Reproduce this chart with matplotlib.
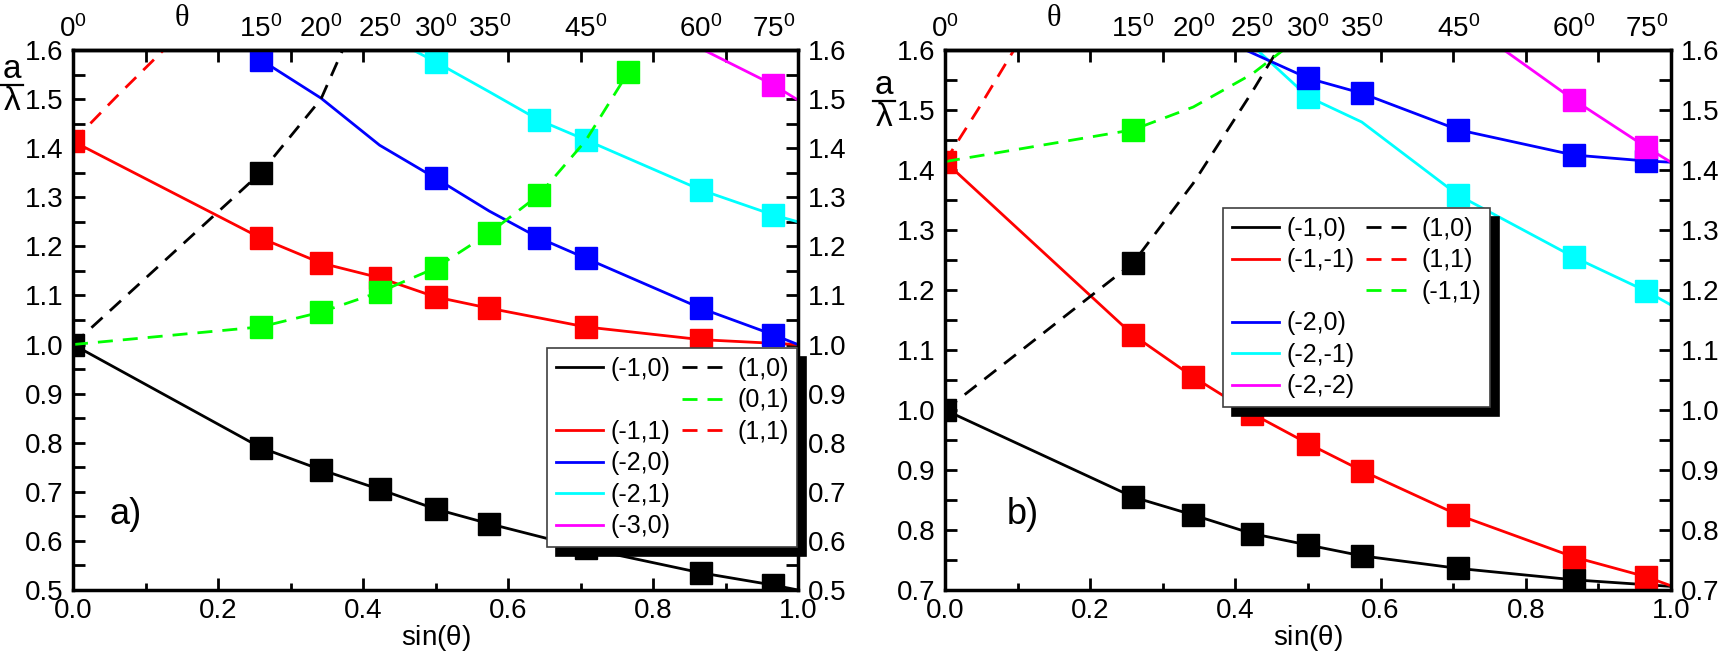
import matplotlib
matplotlib.use('Agg')
import matplotlib.pyplot as plt
from matplotlib.lines import Line2D
from matplotlib.ticker import MultipleLocator

plt.rcParams['font.family'] = ['Liberation Sans', 'DejaVu Sans']
plt.rcParams['mathtext.fontset'] = 'custom'
plt.rcParams['mathtext.rm'] = 'Liberation Sans'
plt.rcParams['mathtext.it'] = 'Liberation Sans'

# top axis: angle labels placed at sin(theta)
theta_labels = ['0', '15', '20', '25', '30', '35', '45', '60', '75']
theta_sin = [0.0, 0.259, 0.342, 0.423, 0.5, 0.574, 0.707, 0.866, 0.966]

# ---- panel a) ----
a_m10_x = [0, 0.259, 0.342, 0.423, 0.5, 0.574, 0.707, 0.866, 0.966, 1.0]
a_m10_y = [1.0, 0.79, 0.745, 0.705, 0.665, 0.635, 0.585, 0.535, 0.51, 0.5]
a_p10_x = [0, 0.259, 0.342, 0.372]
a_p10_y = [1.0, 1.35, 1.50, 1.6]
a_01_x = [0, 0.259, 0.342, 0.423, 0.5, 0.574, 0.643, 0.707, 0.766]
a_01_y = [1.0, 1.036, 1.066, 1.107, 1.156, 1.227, 1.305, 1.415, 1.555]
a_m11_x = [0, 0.259, 0.342, 0.423, 0.5, 0.574, 0.707, 0.866, 1.0]
a_m11_y = [1.414, 1.217, 1.166, 1.136, 1.097, 1.074, 1.036, 1.01, 1.0]
a_p11_x = [0, 0.06, 0.125]
a_p11_y = [1.414, 1.505, 1.6]
a_m20_x = [0.259, 0.342, 0.423, 0.5, 0.574, 0.643, 0.707, 0.866, 0.966, 1.0]
a_m20_y = [1.58, 1.502, 1.406, 1.339, 1.272, 1.217, 1.176, 1.074, 1.02, 1.0]
a_m21_x = [0.469, 0.5, 0.574, 0.643, 0.707, 0.866, 0.966, 1.0]
a_m21_y = [1.6, 1.576, 1.515, 1.457, 1.417, 1.315, 1.264, 1.25]
a_m30_x = [0.87, 0.966, 1.0]
a_m30_y = [1.6, 1.529, 1.498]

# ---- panel b) ----
b_m10_x = [0, 0.259, 0.342, 0.423, 0.5, 0.574, 0.707, 0.866, 1.0]
b_m10_y = [1.0, 0.855, 0.825, 0.794, 0.775, 0.757, 0.736, 0.717, 0.706]
b_p10_x = [0, 0.259, 0.342, 0.423, 0.458]
b_p10_y = [1.0, 1.245, 1.378, 1.53, 1.6]
b_m1m1_x = [0, 0.259, 0.342, 0.423, 0.5, 0.574, 0.707, 0.866, 0.966, 1.0]
b_m1m1_y = [1.414, 1.125, 1.055, 0.994, 0.944, 0.899, 0.825, 0.755, 0.722, 0.707]
b_p11_x = [0, 0.045, 0.095]
b_p11_y = [1.414, 1.5, 1.6]
b_m11_x = [0, 0.259, 0.342, 0.423, 0.466]
b_m11_y = [1.414, 1.467, 1.505, 1.56, 1.6]
b_m20_x = [0.414, 0.5, 0.574, 0.707, 0.866, 0.966, 1.0]
b_m20_y = [1.6, 1.553, 1.528, 1.467, 1.425, 1.415, 1.413]
b_m2m1_x = [0.43, 0.5, 0.574, 0.707, 0.866, 0.966, 1.0]
b_m2m1_y = [1.6, 1.522, 1.48, 1.358, 1.255, 1.198, 1.175]
b_m2m2_x = [0.77, 0.866, 0.966, 1.0]
b_m2m2_y = [1.6, 1.517, 1.438, 1.413]

LW = 2.0
MS = 16
DASH = (0, (5.4, 3.6))


def curve(ax, x, y, color, ls='-', marks=None):
    ax.plot(x, y, color=color, ls=ls, lw=LW, marker='s' if marks else None,
            ms=MS, markevery=marks, mfc=color, mec=color)


def blank():
    return Line2D([], [], color='none')


def style_axes(ax, ymin, ymax):
    ax.set_xlim(0, 1.0)
    ax.set_ylim(ymin, ymax)
    for s in ax.spines.values():
        s.set_linewidth(2.5)
    ax.xaxis.set_major_locator(MultipleLocator(0.2))
    ax.xaxis.set_minor_locator(MultipleLocator(0.1))
    ax.yaxis.set_major_locator(MultipleLocator(0.1))
    ax.yaxis.set_minor_locator(MultipleLocator(0.05))
    ax.tick_params(which='both', direction='in', top=False, right=True,
                   labelright=True, width=2.0, labelsize=20)
    ax.tick_params(axis='y', which='both', length=8.5, pad=7)
    ax.tick_params(axis='x', which='major', length=8.5, pad=6)
    ax.tick_params(axis='x', which='minor', length=5)
    ax.xaxis.set_major_formatter(plt.FormatStrFormatter('%.1f'))
    ax.yaxis.set_major_formatter(plt.FormatStrFormatter('%.1f'))
    ax.set_xlabel(r'sin($\mathregular{\theta}$)', fontsize=20, labelpad=-1)

    top = ax.secondary_xaxis('top')
    top.set_xticks(theta_sin, [r'$\mathregular{%s^0}$' % t for t in theta_labels])
    top.xaxis.set_minor_locator(MultipleLocator(0.1))
    top.tick_params(which='major', length=0, pad=5, labelsize=20)
    top.tick_params(which='minor', direction='in', length=8.5, width=2.0)
    top.spines['top'].set_linewidth(2.5)
    ax.text(0.15, 1.058, '\u03b8', transform=ax.transAxes, ha='center', va='center',
            fontsize=22, family='Liberation Serif')


def shadow_legend(ax, handles, labels, anchor):
    leg = ax.legend(handles, labels, ncol=2, loc='upper left', bbox_to_anchor=anchor,
                    borderaxespad=0, fontsize=18, handlelength=1.9, handletextpad=0.3,
                    columnspacing=0.45, labelspacing=0.3, borderpad=0.35, fancybox=False,
                    framealpha=1, edgecolor='#404040',
                    shadow={'ox': 6.5, 'oy': -6.5, 'facecolor': 'k', 'edgecolor': 'k', 'alpha': 1})
    leg.get_frame().set_linewidth(1.2)
    return leg


fig = plt.figure(figsize=(17.2, 6.58), dpi=100)
axA = fig.add_axes([73 / 1720, 68 / 658, 725 / 1720, 540 / 658])
axB = fig.add_axes([945 / 1720, 68 / 658, 726 / 1720, 540 / 658])

# panel a
curve(axA, a_m10_x, a_m10_y, 'black', '-', list(range(9)))
curve(axA, a_m11_x, a_m11_y, 'red', '-', list(range(8)))
curve(axA, a_m20_x, a_m20_y, 'blue', '-', [0, 3, 5, 6, 7, 8])
curve(axA, a_m21_x, a_m21_y, 'cyan', '-', [1, 3, 4, 5, 6])
curve(axA, a_m30_x, a_m30_y, 'magenta', '-', [1])
curve(axA, a_p10_x, a_p10_y, 'black', DASH, [1])
curve(axA, a_01_x, a_01_y, '#00ff00', DASH, [1, 2, 3, 4, 5, 6, 8])
curve(axA, a_p11_x, a_p11_y, 'red', DASH)
style_axes(axA, 0.5, 1.6)
axA.text(0.05, 0.14, 'a)', transform=axA.transAxes, fontsize=26, va='center')

hA = [Line2D([], [], color='black', lw=LW), blank(),
      Line2D([], [], color='red', lw=LW), Line2D([], [], color='blue', lw=LW),
      Line2D([], [], color='cyan', lw=LW), Line2D([], [], color='magenta', lw=LW),
      Line2D([], [], color='black', lw=LW, ls=DASH), Line2D([], [], color='#00ff00', lw=LW, ls=DASH),
      Line2D([], [], color='red', lw=LW, ls=DASH), blank(), blank(), blank()]
lA = ['(-1,0)', '', '(-1,1)', '(-2,0)', '(-2,1)', '(-3,0)',
      '(1,0)', '(0,1)', '(1,1)', '', '', '']
shadow_legend(axA, hA, lA, (0.654, 0.448))

# panel b
curve(axB, b_m10_x, b_m10_y, 'black', '-', list(range(8)))
curve(axB, b_m1m1_x, b_m1m1_y, 'red', '-', list(range(9)))
curve(axB, b_m2m1_x, b_m2m1_y, 'cyan', '-', [1, 3, 4, 5])
curve(axB, b_m20_x, b_m20_y, 'blue', '-', [1, 2, 3, 4, 5])
curve(axB, b_m2m2_x, b_m2m2_y, 'magenta', '-', [1, 2])
curve(axB, b_p10_x, b_p10_y, 'black', DASH, [1])
curve(axB, b_m11_x, b_m11_y, '#00ff00', DASH, [1])
curve(axB, b_p11_x, b_p11_y, 'red', DASH)
style_axes(axB, 0.7, 1.6)
axB.text(0.085, 0.14, 'b)', transform=axB.transAxes, fontsize=26, va='center')

hB = [Line2D([], [], color='black', lw=LW), Line2D([], [], color='red', lw=LW), blank(),
      Line2D([], [], color='blue', lw=LW), Line2D([], [], color='cyan', lw=LW),
      Line2D([], [], color='magenta', lw=LW),
      Line2D([], [], color='black', lw=LW, ls=DASH), Line2D([], [], color='red', lw=LW, ls=DASH),
      Line2D([], [], color='#00ff00', lw=LW, ls=DASH), blank(), blank(), blank()]
lB = ['(-1,0)', '(-1,-1)', '', '(-2,0)', '(-2,-1)', '(-2,-2)',
      '(1,0)', '(1,1)', '(-1,1)', '', '', '']
shadow_legend(axB, hB, lB, (0.383, 0.707))

# a / lambda labels on the left of each panel
for xc, ya in [(12, 70), (884, 86)]:
    fig.text(xc / 1720, 1 - ya / 658, 'a', ha='center', va='center', fontsize=24)
    fig.text(xc / 1720, 1 - (ya + 31) / 658, '\u03bb', ha='center', va='center', fontsize=24)
    fig.add_artist(Line2D([(xc - 11) / 1720, (xc + 11) / 1720],
                          [1 - (ya + 15) / 658, 1 - (ya + 15) / 658],
                          color='black', lw=1.6))

fig.savefig('out.png', dpi=100)
